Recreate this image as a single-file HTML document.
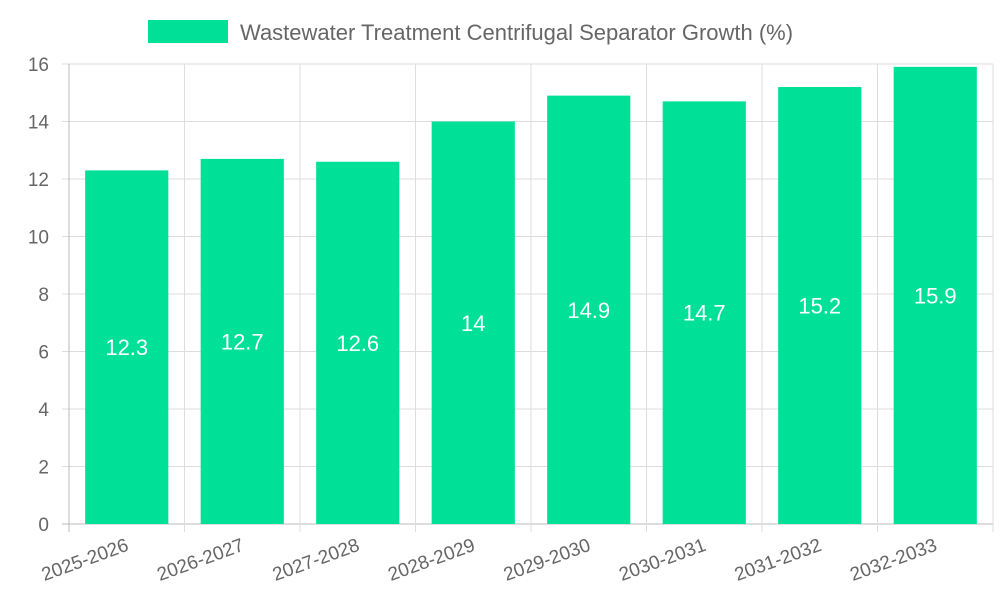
<!DOCTYPE html>
<html><head><meta charset="utf-8"><style>
html,body{margin:0;padding:0;background:#fff;}
svg{display:block;font-family:"Liberation Sans",Arial,sans-serif;}
</style></head><body>
<svg id="chart" width="1000" height="600">
  <g>
    <rect x="148" y="20" width="80" height="23" fill="#00e096"/>
    <text x="240" y="40" font-size="22" fill="#666">Wastewater Treatment Centrifugal Separator Growth (%)</text>
  </g>
  <g id="grid"></g>
  <g id="bars"></g>
  <g id="axes"></g>
</svg>
<script>
const categories = ["2025-2026","2026-2027","2027-2028","2028-2029","2029-2030","2030-2031","2031-2032","2032-2033"];
const values = [12.3,12.7,12.6,14,14.9,14.7,15.2,15.9];
const yTicks = [0,2,4,6,8,10,12,14,16];

const NS="http://www.w3.org/2000/svg";
const L=69,R=993,T=64,B=524,yMax=16;
const bw=(R-L)/categories.length;
const y=v=>B-(v/yMax)*(B-T);
const x=i=>L+i*bw;
function mk(tag,attrs,parent){const e=document.createElementNS(NS,tag);for(const k in attrs)e.setAttribute(k,attrs[k]);parent.appendChild(e);return e;}
const grid=document.getElementById('grid'),bars=document.getElementById('bars'),axes=document.getElementById('axes');

yTicks.forEach(t=>{
  const g=mk('line',{x1:L-7,x2:R,y1:y(t),y2:y(t),stroke:t===0?'#bbb':'#ddd','stroke-width':1},grid);
  
  
  const lb=mk('text',{x:L-20,y:y(t)+7,'text-anchor':'end','font-size':19,fill:'#666'},axes);
  lb.textContent=t;
  
  
});
for(let i=0;i<=categories.length;i++){
  const g=mk('line',{x1:x(i),x2:x(i),y1:T,y2:B+8,stroke:i===0?'#bbb':'#ddd','stroke-width':1},grid);
  
  
}
categories.forEach((c,i)=>{
  const cx=x(i)+bw/2, w=bw*0.72;
  const r=mk('rect',{x:cx-w/2,y:y(values[i]),width:w,height:B-y(values[i]),fill:'#00e096'},bars);
  
  
  const vt=mk('text',{x:cx,y:(y(values[i])+B)/2+8,'text-anchor':'middle','font-size':22,fill:'#fff'},bars);
  vt.textContent=values[i];
  
  
  const xt=mk('text',{x:cx+3,y:B+26,'text-anchor':'end','font-size':19,fill:'#666',transform:`rotate(-20 ${cx+3} ${B+26})`},axes);
  xt.textContent=c;
  
  
});
</script>
</body></html>
